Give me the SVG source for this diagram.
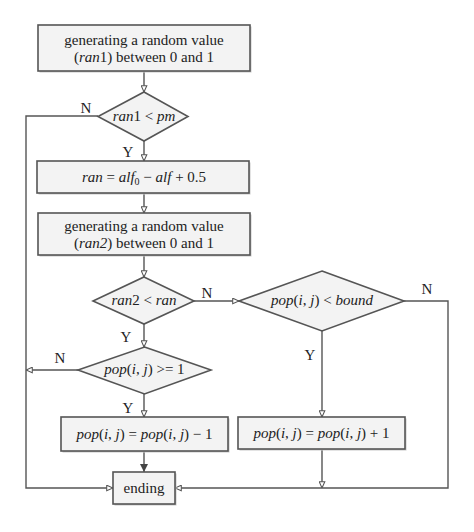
<svg xmlns="http://www.w3.org/2000/svg" width="474" height="532" viewBox="0 0 474 532">
<style>
.box{fill:#f3f3f3;stroke:#555;stroke-width:1.6}
.sh{fill:#c8c8c8}
.t{font-family:"Liberation Serif","Times New Roman",serif;font-size:15px;fill:#222;text-anchor:middle}
.i{font-style:italic}
.c{fill:none;stroke:#555;stroke-width:1.4}
.lbl{font-family:"Liberation Serif","Times New Roman",serif;font-size:15px;fill:#222;text-anchor:middle}
</style>
<defs>
<marker id="ah" viewBox="0 0 10 10" refX="10" refY="5" markerWidth="7" markerHeight="7" markerUnits="userSpaceOnUse" orient="auto"><path d="M1,1 L10,5 L1,9 z" fill="#fff" stroke="#555" stroke-width="1.5"/></marker>
<marker id="af" viewBox="0 0 10 10" refX="10" refY="5" markerWidth="8" markerHeight="8" markerUnits="userSpaceOnUse" orient="auto"><path d="M0,0 L10,5 L0,10 z" fill="#444"/></marker>
</defs>
<rect width="474" height="532" fill="#fff"/>
<g id="connectors">
<path class="c" d="M144,71 V92" marker-end="url(#ah)"/>
<path class="c" d="M98,116 H26 V488 H113" marker-end="url(#ah)"/>
<path class="c" d="M144,141 V161" marker-end="url(#ah)"/>
<path class="c" d="M144,193 V213" marker-end="url(#ah)"/>
<path class="c" d="M144,255 V277" marker-end="url(#ah)"/>
<path class="c" d="M194,301 H239" marker-end="url(#ah)"/>
<path class="c" d="M144,324 V347" marker-end="url(#ah)"/>
<path class="c" d="M78,370 H26" marker-end="url(#ah)"/>
<path class="c" d="M144,394 V417" marker-end="url(#ah)"/>
<path class="c" d="M322,331 V417" marker-end="url(#ah)"/>
<path class="c" d="M404,301 H448 V488 H175" marker-end="url(#ah)"/>
<path class="c" d="M322,449 V488" marker-end="url(#ah)"/>
<path class="c" d="M144,451 V472" marker-end="url(#af)"/>
<text class="lbl" x="86" y="113">N</text>
<text class="lbl" x="128" y="157">Y</text>
<text class="lbl" x="207" y="298">N</text>
<text class="lbl" x="427" y="294">N</text>
<text class="lbl" x="126" y="342">Y</text>
<text class="lbl" x="310" y="360">Y</text>
<text class="lbl" x="60" y="363">N</text>
<text class="lbl" x="128" y="413">Y</text>
</g>
<g id="gen1">
<rect class="sh" x="39.5" y="26.5" width="212" height="46"/>
<rect class="box" x="38" y="25" width="212" height="46"/>
<text class="t" x="144" y="45">generating a random value</text>
<text class="t" x="144" y="62">(<tspan class="i">ran</tspan>1) between 0 and 1</text>
</g>
<g id="dec1">
<polygon class="box" points="144,92 188,116.5 144,141 98,116.5"/>
<text class="t" x="144" y="121"><tspan class="i">ran</tspan>1 &lt; <tspan class="i">pm</tspan></text>
</g>
<g id="ran">
<rect class="sh" x="38.5" y="162.5" width="212" height="32"/>
<rect class="box" x="37" y="161" width="212" height="32"/>
<text class="t" x="144" y="182"><tspan class="i">ran</tspan> = <tspan class="i">alf</tspan><tspan font-size="10" dy="3">0</tspan><tspan dy="-3"> − </tspan><tspan class="i">alf</tspan> + 0.5</text>
</g>
<g id="gen2">
<rect class="sh" x="39.5" y="214.5" width="212" height="42"/>
<rect class="box" x="38" y="213" width="212" height="42"/>
<text class="t" x="144" y="231">generating a random value</text>
<text class="t" x="144" y="248">(<tspan class="i">ran2</tspan>) between 0 and 1</text>
</g>
<g id="dec2">
<polygon class="box" points="144,277 194,301 144,324 93,301"/>
<text class="t" x="144" y="305"><tspan class="i">ran</tspan>2 &lt; <tspan class="i">ran</tspan></text>
</g>
<g id="dec3">
<polygon class="box" points="322,271 404,301 322,331 239,301"/>
<text class="t" x="322" y="305"><tspan class="i">pop</tspan>(<tspan class="i">i</tspan>, <tspan class="i">j</tspan>) &lt; <tspan class="i">bound</tspan></text>
</g>
<g id="dec4">
<polygon class="box" points="144.5,347 211,370 144.5,394 78,370"/>
<text class="t" x="144.5" y="374"><tspan class="i">pop</tspan>(<tspan class="i">i</tspan>, <tspan class="i">j</tspan>) &gt;= 1</text>
</g>
<g id="dec">
<rect class="sh" x="62.5" y="418.5" width="167" height="34"/>
<rect class="box" x="61" y="417" width="167" height="34"/>
<text class="t" x="144.5" y="439"><tspan class="i">pop</tspan>(<tspan class="i">i</tspan>, <tspan class="i">j</tspan>) = <tspan class="i">pop</tspan>(<tspan class="i">i</tspan>, <tspan class="i">j</tspan>) − 1</text>
</g>
<g id="inc">
<rect class="sh" x="239.5" y="418.5" width="167" height="32"/>
<rect class="box" x="238" y="417" width="167" height="32"/>
<text class="t" x="321.5" y="438"><tspan class="i">pop</tspan>(<tspan class="i">i</tspan>, <tspan class="i">j</tspan>) = <tspan class="i">pop</tspan>(<tspan class="i">i</tspan>, <tspan class="i">j</tspan>) + 1</text>
</g>
<g id="ending">
<rect class="sh" x="114.5" y="473.5" width="62" height="32"/>
<rect class="box" x="113" y="472" width="62" height="32"/>
<text class="t" x="144" y="493">ending</text>
</g>
</svg>
